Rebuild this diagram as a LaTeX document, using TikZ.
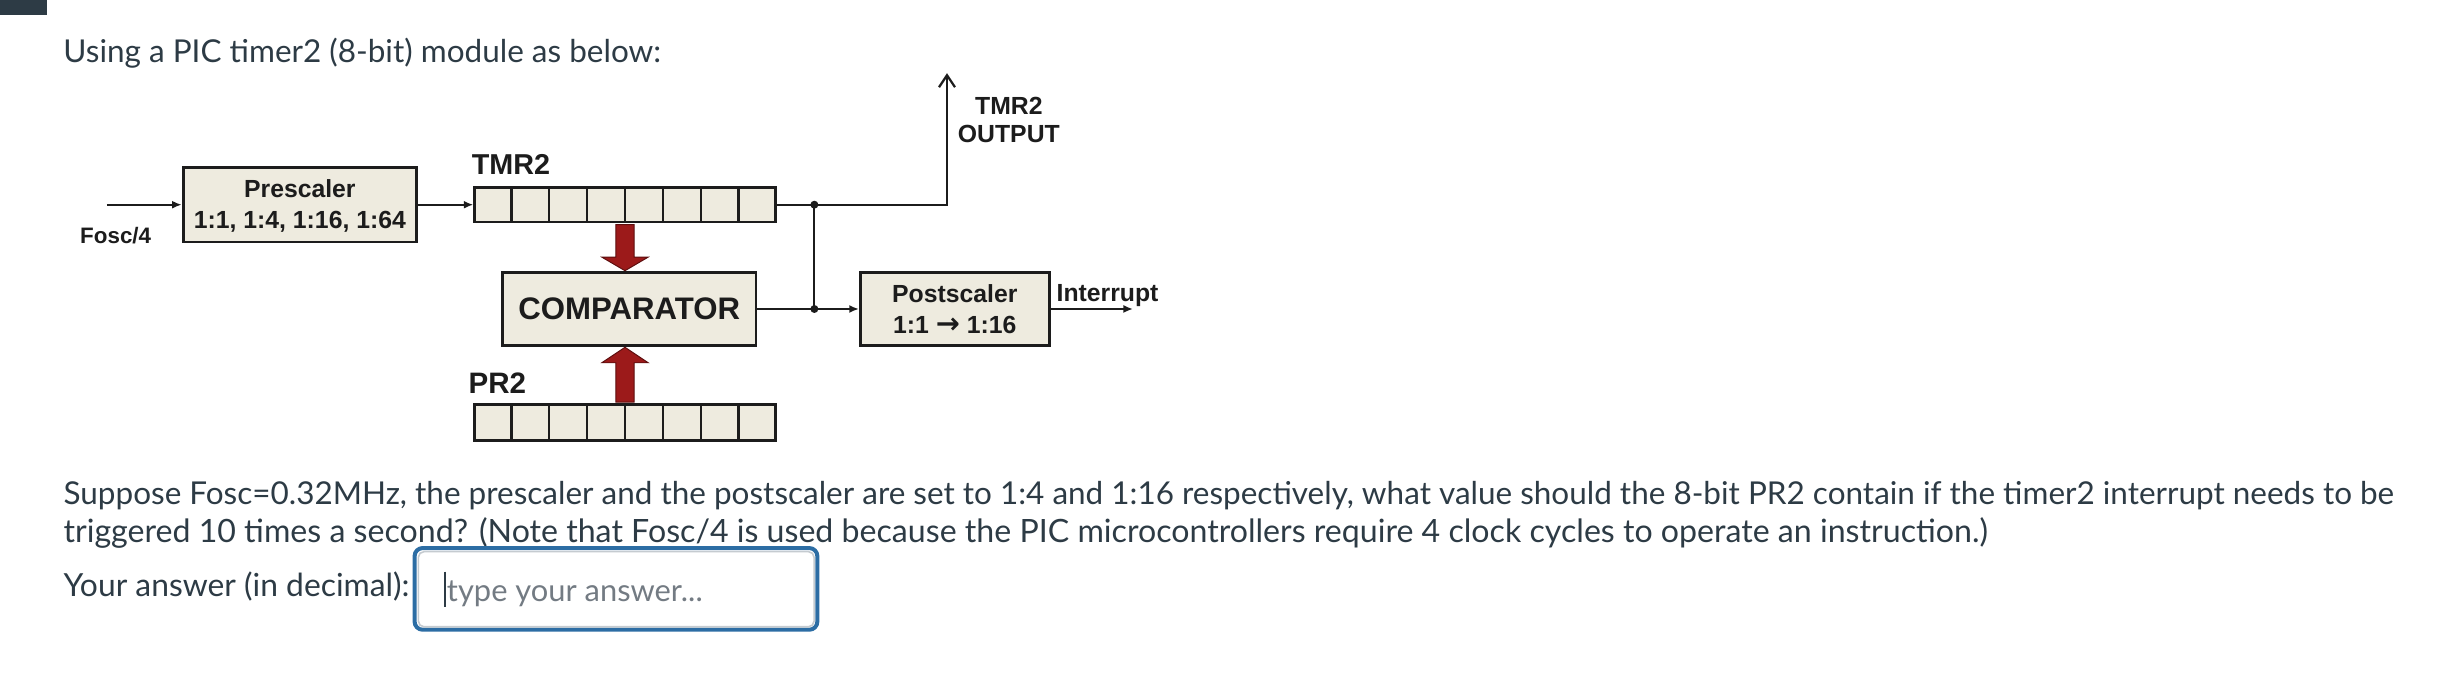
\documentclass[tikz,border=0pt]{standalone}
\usepackage{graphicx}
\usepackage{fontspec}
\setmainfont{Lato}
\newfontfamily\diagfont{Liberation Sans}
\newfontfamily\arrowfont{DejaVu Sans}
\usetikzlibrary{arrows.meta,calc}
\definecolor{canvastext}{HTML}{2D3B45}
\definecolor{boxfill}{HTML}{EEEBDF}
\definecolor{ink}{HTML}{1C1C1C}
\definecolor{redfill}{HTML}{9C1A1A}
\definecolor{redline}{HTML}{5C0E0E}
\definecolor{focusblue}{HTML}{2C6DA4}
\definecolor{inputgrey}{HTML}{C5CBD0}
\definecolor{placeholder}{HTML}{737B83}
\newcommand{\fitw}[2]{\resizebox{#1pt}{!}{#2}}
\begin{document}
\begin{tikzpicture}[x=1pt,y=-1pt,
  blk/.style={draw=ink, line width=1.8pt, fill=boxfill, inner sep=0pt, align=center, text=ink,
    font=\diagfont\bfseries\fontsize{15.5}{19.4}\selectfont},
  reg/.style={draw=ink, line width=1.6pt, fill=boxfill, minimum width=188.2pt, minimum height=21.8pt, inner sep=0pt},
  wire/.style={draw=ink, line width=1.3pt},
  tip/.style={-{Latex[length=6pt,width=5pt]}},
  lbl/.style={inner sep=0pt, text=ink, font=\diagfont\bfseries\fontsize{15.5}{17.7}\selectfont},
  body/.style={inner sep=0pt, anchor=base west, text=canvastext, font=\fontsize{16}{19}\selectfont},
  junction/.style={circle, fill=ink, inner sep=0pt, minimum size=5pt},
  bigarrow/.style={fill=redfill, draw=redline, line width=0.6pt}
]
\path[use as bounding box] (0,0) rectangle (1540,426.2);
\fill[canvastext] (0,0) rectangle (29.4,9.2);
\node[body] (title) at (39.5,39) {\fitw{374}{Using a PIC timer2 (8-bit) module as below:}};

% blocks
\node[blk, minimum width=146.1pt, minimum height=46.6pt] (pre) at (187.65,128.1) {\rule{0pt}{13pt}Prescaler\\1:1, 1:4, 1:16, 1:64};
\node[reg] (tmr) at (391.1,128.1) {};
\node[reg, minimum height=22.4pt] (pr) at (391.1,264.4) {};
\node[blk, minimum width=158.7pt, minimum height=46.1pt, font=\diagfont\bfseries\fontsize{19.5}{22}\selectfont] (cmp) at (393.75,193.35) {COMPARATOR};
\node[blk, minimum width=118.2pt, minimum height=46.1pt] (post) at (597.5,193.35) {Postscaler\\1:1 {\arrowfont\bfseries\fontsize{18}{19.4}\selectfont →} 1:16};

\foreach \r in {tmr,pr}
  \foreach \i in {1,...,7}
    \draw[draw=ink, line width=1.6pt] ($(\r.north west)!\i/8!(\r.north east)$) -- ($(\r.south west)!\i/8!(\r.south east)$);

% labels
\node[lbl, anchor=base west, font=\diagfont\bfseries\fontsize{14}{16}\selectfont] (fosc) at (50,152.3) {Fosc/4};
\node[lbl, anchor=base west, font=\diagfont\bfseries\fontsize{18}{20}\selectfont] (tmrlbl) at (295,109.5) {TMR2};
\node[lbl, anchor=base west, font=\diagfont\bfseries\fontsize{18.5}{20}\selectfont] (prlbl) at (293,246) {PR2};
\node[lbl, anchor=north, align=center] (outlbl) at (631.3,60.5) {TMR2\\OUTPUT};
\node[lbl, anchor=base west] (intlbl) at (661,188.8) {Interrupt};

% connectors
\coordinate (fin) at (66.8,128.1);
\draw[wire,tip] (fin) -- (pre.west);
\draw[wire,tip] (pre.east) -- (tmr.west);
\coordinate (j1) at (509.6,128.1);
\coordinate (j2) at (509.6,193.35);
\coordinate (bend) at (592.6,128.1);
\coordinate (outtip) at (592.6,45.8);
\draw[wire, -{Straight Barb[length=7.5pt,width=10pt,line width=1.4pt]}] (tmr.east) -- (bend) -- (outtip);
\draw[wire] (j1) -- (j2);
\draw[wire,tip] (cmp.east) -- (post.west);
\coordinate (intend) at (709,193.35);
\draw[wire,tip] (post.east) -- (intend);
\node[junction] (dot1) at (j1) {};
\node[junction] (dot2) at (j2) {};

% red arrows
\coordinate (dtop) at ($(tmr.south)+(0,0.8)$);
\coordinate (dtip) at (tmr.south |- cmp.north);
\filldraw[bigarrow] ($(dtop)+(-5.7,0)$) -- ($(dtop)+(5.7,0)$) -- ($(dtip)+(5.7,-8.5)$) -- ($(dtip)+(14.5,-8.5)$)
  -- (dtip) -- ($(dtip)+(-14.5,-8.5)$) -- ($(dtip)+(-5.7,-8.5)$) -- cycle;
\coordinate (ubot) at ($(pr.north)+(0,-0.8)$);
\coordinate (utip) at (pr.north |- cmp.south);
\filldraw[bigarrow] ($(ubot)+(-5.7,0)$) -- ($(ubot)+(5.7,0)$) -- ($(utip)+(5.7,9.7)$) -- ($(utip)+(14.5,9.7)$)
  -- (utip) -- ($(utip)+(-14.5,9.7)$) -- ($(utip)+(-5.7,9.7)$) -- cycle;

% question text
\node[body] (q1) at (39.6,316) {\fitw{1458}{Suppose Fosc=0.32MHz, the prescaler and the postscaler are set to 1:4 and 1:16 respectively, what value should the 8-bit PR2 contain if the timer2 interrupt needs to be}};
\node[body] (q2) at (39.6,339.3) {\fitw{1204}{triggered 10 times a second? (Note that Fosc/4 is used because the PIC microcontrollers require 4 clock cycles to operate an instruction.)}};
\node[body] (q3) at (39.6,373.4) {\fitw{216.5}{Your answer (in decimal):}};

% answer box
\node[draw=focusblue, line width=2.5pt, rounded corners=5pt, minimum width=252pt, minimum height=51.1pt, fill=white, inner sep=0pt] (ansout) at (385.45,368.5) {};
\node[draw=inputgrey, line width=1pt, rounded corners=3.5pt, minimum width=247.6pt, minimum height=47pt, inner sep=0pt] (ansin) at (385.6,368.7) {};
\node[body, text=placeholder] (ph) at (279.5,376.5) {\fitw{160}{type your answer...}};
\coordinate (cur1) at (278.5,357.7);
\coordinate (cur2) at (278.5,379.6);
\draw[canvastext, line width=0.9pt] (cur1) -- (cur2);
\end{tikzpicture}
\end{document}
